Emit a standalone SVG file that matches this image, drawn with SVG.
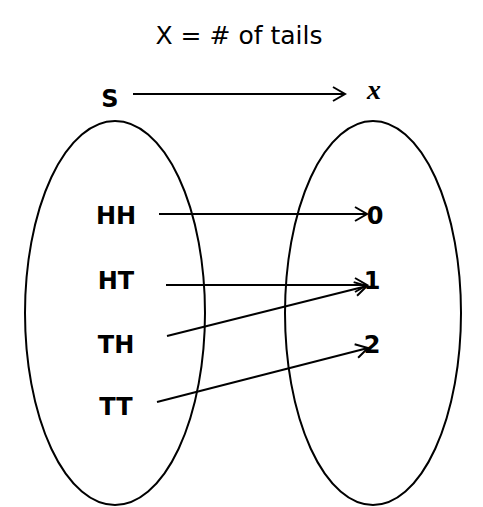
<svg xmlns="http://www.w3.org/2000/svg" width="483" height="507" viewBox="0 0 483 507">
<style>
.lbl{font-family:"DejaVu Sans","Liberation Sans",sans-serif;font-weight:bold;font-size:24px;fill:#000;text-anchor:middle}
.ttl{font-family:"DejaVu Sans","Liberation Sans",sans-serif;font-size:25px;fill:#000;text-anchor:middle}
.ell{fill:none;stroke:#000;stroke-width:2}
.con{fill:none;stroke:#000;stroke-width:2;marker-end:url(#chev)}
</style>
<defs>
<marker id="chev" markerUnits="userSpaceOnUse" markerWidth="16" markerHeight="16" refX="13" refY="8" orient="auto">
<path d="M1,1 L13,8 L1,15" fill="none" stroke="#000" stroke-width="2"/>
</marker>
</defs>
<rect width="483" height="507" fill="#fff"/>
<text class="ttl" x="239" y="44">X = # of tails</text>
<g id="S"><text class="lbl" x="110" y="107">S</text></g>
<g id="x"><text x="374" y="99" font-family="'Liberation Serif',serif" font-style="italic" font-weight="bold" font-size="28" text-anchor="middle">x</text></g>
<g id="sample-space"><ellipse class="ell" cx="115" cy="313" rx="90" ry="192"/></g>
<g id="values"><ellipse class="ell" cx="373" cy="313" rx="88" ry="192"/></g>
<g id="HH"><text class="lbl" x="116" y="224">HH</text></g>
<g id="HT"><text class="lbl" x="116" y="289">HT</text></g>
<g id="TH"><text class="lbl" x="116" y="353">TH</text></g>
<g id="TT"><text class="lbl" x="116" y="415">TT</text></g>
<g id="v0"><text class="lbl" x="375" y="224">0</text></g>
<g id="v1"><text class="lbl" x="372" y="289">1</text></g>
<g id="v2"><text class="lbl" x="372" y="353">2</text></g>
<g id="connectors">
<line class="con" x1="133" y1="94" x2="345" y2="94"/>
<line class="con" x1="159" y1="214" x2="367" y2="214"/>
<line class="con" x1="166" y1="285" x2="367" y2="285"/>
<line class="con" x1="167" y1="336" x2="367" y2="286"/>
<line class="con" x1="157" y1="402" x2="368" y2="348"/>
</g>
</svg>
